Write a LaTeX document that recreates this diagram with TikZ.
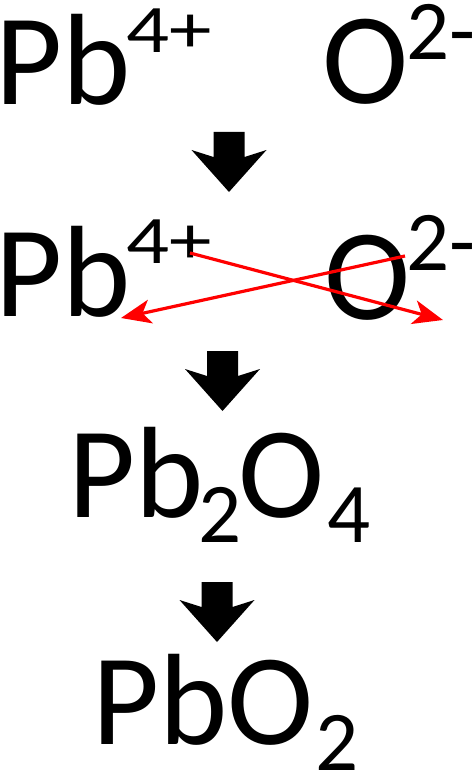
\documentclass[tikz,border=0pt]{standalone}
\usepackage{fontspec}
\setmainfont{Carlito}
\usetikzlibrary{arrows.meta}
\begin{document}
\begin{tikzpicture}[x=1pt,y=-1pt,
  big/.style={inner sep=0pt,outer sep=0pt,anchor=base west,font=\fontsize{130}{130}\selectfont},
  small/.style={inner sep=0pt,outer sep=0pt,anchor=base west,font=\fontsize{85}{85}\selectfont},
  redarrow/.style={draw=red,line width=3.2pt,-{Stealth[length=30pt,width=24pt,inset=8pt]}},
  blockarrow/.pic={\fill[black] (-15.5,0) -- (15.5,0) -- (15.5,25) -- (37.5,18) -- (0,60) -- (-37.5,18) -- (-15.5,25) -- cycle;}]
\useasboundingbox[fill=white] (0,0) rectangle (474,770);
% row 1
\node[big] (pb1) at (-5,105) {Pb};
\node[small] (c1) at (126,53) {\scalebox{1}[0.8]{4+}};
\node[big] (o1) at (322,104) {O};
\node[small] (a1) at (406,60) {2-};
% arrow
\pic at (229,132) {blockarrow};
% row 2
\node[big] (pb2) at (-5,316) {Pb};
\node[small] (c2) at (126,263) {\scalebox{1}[0.8]{4+}};
\node[big] (o2) at (324,319) {O};
\node[small] (a2) at (406,270) {2-};
\coordinate (r1s) at (190,253);
\coordinate (r1e) at (443,320);
\coordinate (r2s) at (405,256);
\coordinate (r2e) at (121,318);
\draw[redarrow] (r1s) -- (r1e);
\draw[redarrow] (r2s) -- (r2e);
\pic at (222.5,351) {blockarrow};
% row 3
\node[big] (pb3) at (68,517) {Pb};
\node[small] (s3a) at (198,542) {2};
\node[big] (o3) at (238,517) {O};
\node[small] (s3b) at (327,542) {4};
\pic at (217,582) {blockarrow};
% row 4
\node[big] (pb4) at (92,744) {PbO};
\node[small] (s4) at (315,770) {2};
\end{tikzpicture}
\end{document}
